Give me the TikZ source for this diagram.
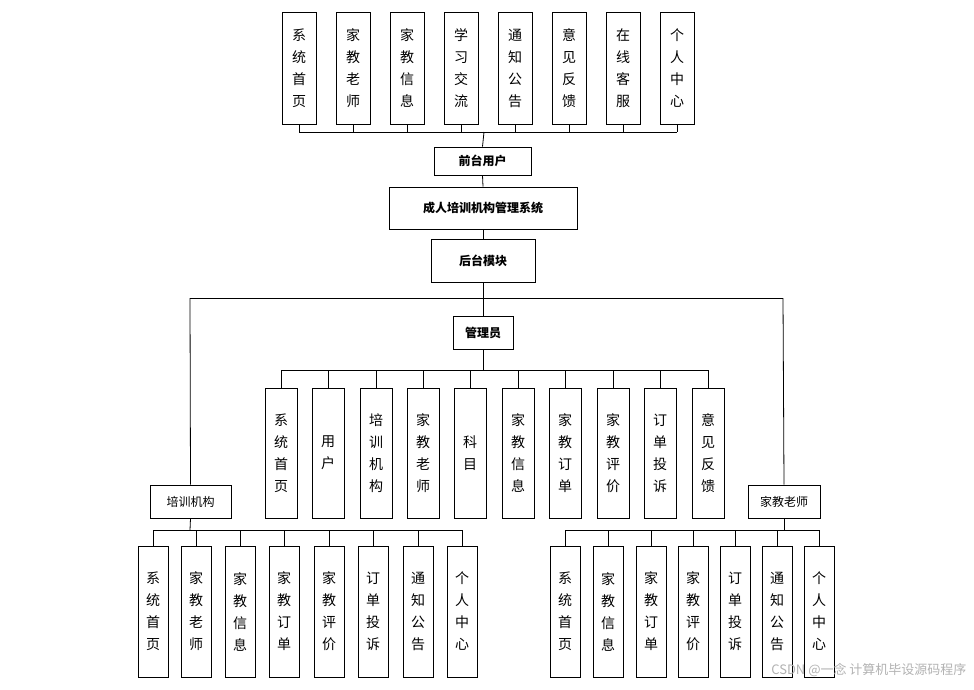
\documentclass[tikz,border=0pt]{standalone}
\usepackage{fontspec}
\setmainfont{Noto Sans CJK SC}
\begin{document}
\begin{tikzpicture}[x=1pt,y=-1pt,
  box/.style={draw,line width=0.8pt,fill=white,inner sep=0pt,align=center,font=\fontsize{14}{22}\selectfont},
  hb/.style={draw,line width=0.8pt,fill=white,inner sep=0pt,font=\fontsize{12}{14}\selectfont\bfseries},
  ln/.style={line width=0.8pt}]
\useasboundingbox (0,0) rectangle (974,689);
% top
\foreach \x/\t [count=\i] in {299/系\\统\\首\\页,353/家\\教\\老\\师,407/家\\教\\信\\息,461/学\\习\\交\\流,515/通\\知\\公\\告,569/意\\见\\反\\馈,623/在\\线\\客\\服,677/个\\人\\中\\心}{
  \node[box,minimum width=34,minimum height=112] (t\i) at (\x,68) {\t};
  \draw[ln] (t\i.south) -- (\x,132);}
\draw[ln] (299,132) -- (677,132);
\node[hb,minimum width=97,minimum height=28] (qt) at (482.5,161) {前台用户};
\node[hb,minimum width=188,minimum height=42] (sys) at (483,208) {成人培训机构管理系统};
\node[hb,minimum width=104,minimum height=43] (ht) at (483,260.5) {后台模块};
\draw[ln] (484,132) -- (qt.north);
\draw[ln] (qt.south) -- (sys.north);
\draw[ln] (sys.south) -- (ht.north);
\draw[ln] (ht.south) -- (483,298);
\draw[ln] (190,298) -- (783,298);
\node[hb,minimum width=60,minimum height=33] (gly) at (483,332.5) {管理员};
\draw[ln] (483,298) -- (gly.north);
\draw[ln] (gly.south) -- (483,370);
\draw[ln] (281,370) -- (708,370);
\foreach \x/\t [count=\i] in {281/系\\统\\首\\页,328/用\\户,376/培\\训\\机\\构,423/家\\教\\老\\师,470/科\\目,518/家\\教\\信\\息,565/家\\教\\订\\单,613/家\\教\\评\\价,660/订\\单\\投\\诉,708/意\\见\\反\\馈}{
  \node[box,minimum width=32,minimum height=130] (a\i) at (\x,453) {\t};
  \draw[ln] (\x,370) -- (a\i.north);}
% left
\node[hb,minimum width=81,minimum height=33,font=\fontsize{12}{14}\selectfont] (px) at (190.5,501.5) {培训机构};
\draw[ln] (190,298) -- (px.north);
\draw[ln] (px.south) -- (190,530);
\draw[ln] (153,530) -- (462,530);
\foreach \x/\t [count=\i] in {153/系\\统\\首\\页,196/家\\教\\老\\师,240/家\\教\\信\\息,284/家\\教\\订\\单,329/家\\教\\评\\价,373/订\\单\\投\\诉,418/通\\知\\公\\告,462/个\\人\\中\\心}{
  \node[box,minimum width=30,minimum height=131] (l\i) at (\x,611.5) {\t};
  \draw[ln] (\x,530) -- (l\i.north);}
% right
\node[hb,minimum width=72,minimum height=33,font=\fontsize{12}{14}\selectfont] (js) at (784,501.5) {家教老师};
\draw[ln] (783,298) -- (js.north);
\draw[ln] (js.south) -- (784,530);
\draw[ln] (565,530) -- (819,530);
\foreach \x/\t [count=\i] in {565/系\\统\\首\\页,608/家\\教\\信\\息,651/家\\教\\订\\单,693/家\\教\\评\\价,735/订\\单\\投\\诉,777/通\\知\\公\\告,819/个\\人\\中\\心}{
  \node[box,minimum width=30,minimum height=131] (r\i) at (\x,611.5) {\t};
  \draw[ln] (\x,530) -- (r\i.north);}
\node[text=black!30,font=\fontsize{13}{15}\selectfont,anchor=east] (wm) at (970,670) {CSDN @一念 计算机毕设源码程序};
\end{tikzpicture}
\end{document}
